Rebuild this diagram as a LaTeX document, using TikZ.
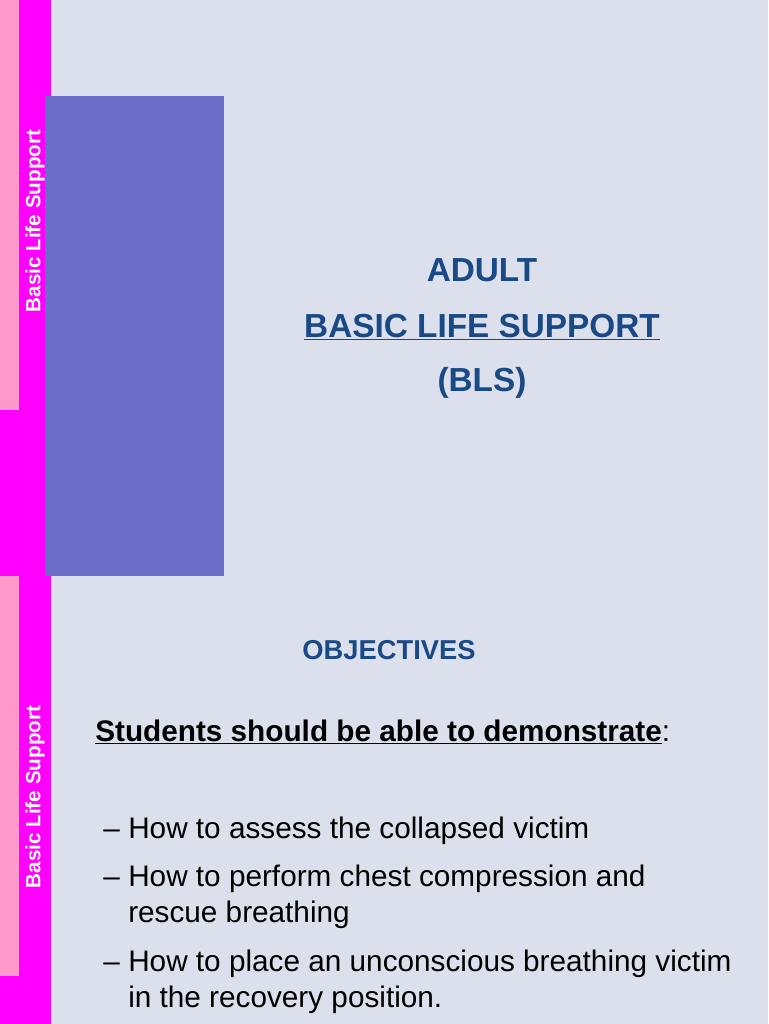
\documentclass[tikz,border=0pt]{standalone}
\usepackage{fontspec}
\setmainfont{Liberation Sans}
\definecolor{bg}{HTML}{DCE0EC}
\definecolor{pinkl}{HTML}{FF99CC}
\definecolor{mag}{HTML}{FF00FF}
\definecolor{blk}{HTML}{6B6DC9}
\definecolor{tblue}{HTML}{1A4A85}
\begin{document}
\begin{tikzpicture}[x=0.75pt,y=-0.75pt,
  side/.style={rotate=90,text=white,font=\bfseries\fontsize{15.5}{18}\selectfont},
  title/.style={text=tblue,font=\bfseries\fontsize{25}{30}\selectfont},
  item/.style={anchor=base west,inner sep=0,font=\fontsize{22.3}{27}\selectfont}]
\useasboundingbox (0,0) rectangle (768,1024);
\fill[bg] (0,0) rectangle (768,1024);
\fill[mag] (0,0) rectangle (51,1024);
\fill[pinkl] (0,0) rectangle (19,410);
\fill[pinkl] (0,576) rectangle (19,976);
\fill[blk] (45,96) rectangle (224,576);
\node[side] (s1) at (35,221) {Basic Life Support};
\node[side] (s2) at (35,797) {Basic Life Support};
\node[title] (t1) at (482,270) {ADULT};
\node[title] (t2) at (482,327) {\underline{BASIC LIFE SUPPORT}};
\node[title] (t3) at (482,383) {(BLS)};
\node[text=tblue,font=\bfseries\fontsize{20.5}{24}\selectfont] (obj) at (389,650) {OBJECTIVES};
\node[item] (stu) at (95,741) {\textbf{\underline{Students should be able to demonstrate}}:};
\node[item] (d1) at (103,838) {–};
\node[item] (i1) at (128,838) {How to assess the collapsed victim};
\node[item] (d2) at (103,886) {–};
\node[item] (i2) at (128,886) {How to perform chest compression and};
\node[item] (i2b) at (128,922) {rescue breathing};
\node[item] (d3) at (103,971) {–};
\node[item] (i3) at (128,971) {How to place an unconscious breathing victim};
\node[item] (i3b) at (128,1007) {in the recovery position.};
\end{tikzpicture}
\end{document}
